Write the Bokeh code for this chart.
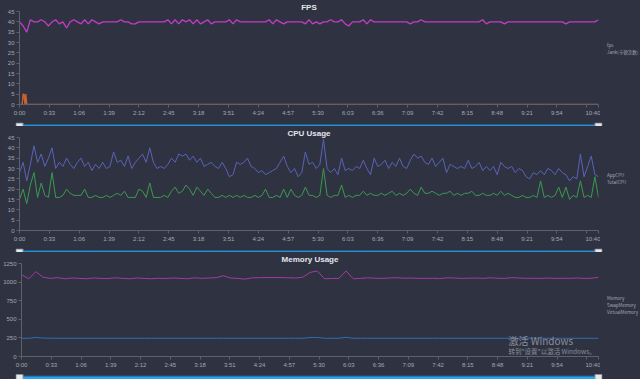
from bokeh.plotting import figure
from bokeh.layouts import column, row
from bokeh.models import Range1d, FixedTicker, Legend, LegendItem, Label
from bokeh.embed import file_html
from bokeh.resources import INLINE

# ---------------- data ----------------
STEP = 4  # seconds between samples of the sampled series
tick_secs = [0, 33, 66, 99, 132, 165, 198, 231, 264, 297, 330, 363, 396, 429,
             462, 495, 528, 561, 594, 627, 640]
tick_labels = ["0:00", "0:33", "1:06", "1:39", "2:12", "2:45", "3:18", "3:51",
               "4:24", "4:57", "5:30", "6:03", "6:36", "7:09", "7:42", "8:15",
               "8:48", "9:21", "9:54", "", "10:40"]

fps = [40, 38, 35, 41, 40, 40, 41, 40, 38, 40,
       41, 39, 40, 37, 40, 41, 40, 39, 41, 39,
       41, 40, 39, 40, 40, 40, 40, 40, 41, 40,
       40, 39, 39, 40, 40, 40, 40, 40, 40, 40,
       40, 41, 39, 41, 39, 41, 40, 41, 39, 41,
       39, 40, 41, 39, 40, 40, 40, 40, 41, 39,
       41, 40, 40, 40, 40, 40, 40, 40, 40, 41,
       39, 41, 40, 39, 40, 40, 40, 40, 40, 39,
       41, 39, 40, 39, 40, 40, 41, 40, 40, 41,
       39, 38, 40, 40, 40, 41, 39, 41, 40, 40,
       40, 40, 40, 40, 40, 40, 40, 40, 39, 40,
       40, 41, 40, 40, 40, 40, 40, 40, 40, 40,
       40, 40, 40, 40, 40, 40, 40, 40, 41, 39,
       40, 40, 40, 40, 39, 40, 40, 40, 40, 40,
       40, 40, 40, 40, 40, 40, 40, 40, 40, 40,
       40, 39, 40, 40, 40, 40, 40, 40, 40, 40,
       41]
jank_time = [0, 3, 4, 5, 6, 7, 8, 640]
jank = [0, 0, 5, 5, 0, 5, 0, 0]

total_cpu = [28, 33, 24, 32, 41, 33, 37, 31, 35, 40,
             30, 33, 31, 35, 32, 30, 33, 35, 31, 33,
             29, 32, 30, 33, 30, 31, 38, 33, 34, 31,
             36, 30, 33, 35, 37, 33, 40, 33, 30, 31,
             30, 32, 35, 33, 37, 36, 37, 34, 36, 33,
             35, 31, 32, 33, 31, 30, 33, 30, 26, 27,
             33, 32, 33, 35, 31, 30, 28, 29, 27, 28,
             29, 30, 33, 36, 31, 28, 30, 26, 28, 38,
             32, 33, 30, 32, 44, 30, 28, 30, 27, 35,
             29, 30, 29, 31, 30, 34, 30, 27, 35, 31,
             32, 34, 30, 33, 31, 35, 31, 30, 34, 37,
             35, 36, 33, 32, 35, 31, 33, 35, 28, 32,
             31, 30, 31, 30, 34, 30, 31, 33, 29, 31,
             29, 31, 27, 33, 31, 30, 31, 28, 30, 29,
             26, 25, 28, 27, 29, 27, 30, 29, 27, 30,
             28, 27, 24, 26, 25, 37, 26, 31, 36, 27,
             26]
app_cpu = [15, 20, 13, 22, 28, 16, 23, 17, 16, 28,
           16, 16, 17, 20, 18, 17, 17, 17, 20, 16,
           16, 17, 16, 16, 17, 16, 17, 18, 17, 19,
           16, 16, 16, 20, 19, 16, 23, 16, 16, 16,
           17, 16, 19, 21, 18, 19, 22, 20, 17, 21,
           19, 17, 20, 18, 16, 16, 17, 16, 17, 16,
           17, 16, 17, 16, 16, 17, 16, 17, 20, 16,
           16, 17, 16, 20, 16, 20, 17, 16, 17, 21,
           17, 17, 16, 17, 30, 17, 16, 17, 17, 22,
           16, 17, 16, 17, 17, 19, 17, 18, 17, 17,
           18, 17, 18, 19, 17, 18, 17, 18, 20, 18,
           17, 21, 18, 18, 19, 18, 17, 18, 18, 19,
           17, 18, 17, 18, 18, 19, 17, 17, 18, 17,
           17, 18, 17, 19, 17, 18, 17, 16, 16, 17,
           16, 16, 17, 16, 24, 16, 17, 16, 17, 21,
           16, 21, 15, 17, 16, 24, 16, 17, 16, 26,
           16]

MEM_STEP = 8
memory = [1100, 1045, 1140, 1065, 1050, 1060, 1045, 1055, 1050, 1045,
          1055, 1050, 1048, 1058, 1050, 1045, 1055, 1050, 1045, 1052,
          1048, 1055, 1050, 1045, 1058, 1050, 1055, 1060, 1085, 1055,
          1050, 1040, 1058, 1060, 1062, 1060, 1062, 1058, 1055, 1065,
          1130, 1150, 1045, 1048, 1050, 1150, 1045, 1050, 1058, 1052,
          1050, 1055, 1060, 1052, 1055, 1050, 1050, 1052, 1048, 1058,
          1055, 1050, 1052, 1055, 1050, 1058, 1052, 1050, 1060, 1055,
          1050, 1052, 1050, 1055, 1050, 1052, 1050, 1055, 1050, 1052,
          1065]
virtual_mem = [245, 245, 256, 248, 245, 245, 245, 245, 245, 245,
               245, 245, 245, 245, 245, 245, 245, 245, 245, 245,
               245, 245, 245, 245, 245, 245, 245, 245, 245, 245,
               245, 245, 245, 245, 245, 245, 245, 245, 245, 245,
               255, 256, 245, 245, 245, 258, 245, 245, 245, 245,
               245, 245, 245, 245, 245, 245, 245, 245, 245, 245,
               245, 245, 245, 245, 245, 245, 245, 245, 245, 245,
               245, 245, 245, 245, 245, 245, 245, 245, 245, 245,
               245]
swap_time = [0, 640]
swap_mem = [0, 0]

fps_ticks = [0, 5, 10, 15, 20, 25, 30, 35, 40, 45]
cpu_ticks = [0, 5, 10, 15, 20, 25, 30, 35, 40, 45]
mem_ticks = [0, 250, 500, 750, 1000, 1250]

t = [i * STEP for i in range(len(fps))]
tc = [i * STEP for i in range(len(total_cpu))]
tm = [i * MEM_STEP for i in range(len(memory))]

# ---------------- style ----------------
BG = "#2f3341"
AXIS = "#5d616d"
LABEL = "#a3a7b1"
W = 640
LEG_W = 40
FIG_H = 118
SL_H = 8
ML, MR = 19, 2
MAIN_W = W - LEG_W
FRAME_W = MAIN_W - ML - MR
FONT = "Liberation Sans"


def make_fig(title, ymax, yticks):
    p = figure(width=MAIN_W, height=FIG_H, x_range=Range1d(0, 640), y_range=Range1d(0, ymax),
               output_backend="svg", toolbar_location=None, title=title,
               background_fill_color=BG, border_fill_color=BG,
               min_border_left=ML, min_border_right=MR, min_border_top=0, min_border_bottom=0)
    p.outline_line_color = None
    p.grid.grid_line_color = None
    p.title.text_font_size = "8px"
    p.title.text_color = "#e3e6ee"
    p.title.text_font = FONT
    p.title.standoff = 0
    p.title.offset = 0
    p.title.align = "center"
    xa = p.xaxis[0]
    xa.ticker = FixedTicker(ticks=tick_secs, minor_ticks=[])
    xa.major_label_overrides = {s: l for s, l in zip(tick_secs, tick_labels)}
    ya = p.yaxis[0]
    ya.ticker = FixedTicker(ticks=yticks, minor_ticks=[])
    for ax in (xa, ya):
        ax.axis_line_color = AXIS
        ax.major_tick_line_color = AXIS
        ax.major_tick_out = 3
        ax.major_tick_in = 0
        ax.major_label_text_font_size = "6px"
        ax.major_label_text_color = LABEL
        ax.major_label_text_font = FONT
        ax.major_label_standoff = 2
    return p


def make_legend(entries, y_pos):
    q = figure(width=LEG_W, height=FIG_H, x_range=Range1d(0, 1), y_range=Range1d(0, 1),
               output_backend="svg", toolbar_location=None,
               background_fill_color=BG, border_fill_color=BG,
               min_border_left=0, min_border_right=0, min_border_top=0, min_border_bottom=0,
               x_axis_location=None, y_axis_location=None)
    q.outline_line_color = None
    q.grid.grid_line_color = None
    items = []
    for name, color in entries:
        r = q.quad(left=[], right=[], top=[], bottom=[], fill_color=color, line_color=None)
        items.append(LegendItem(label=name, renderers=[r]))
    leg = Legend(items=items, location=(1, y_pos), label_text_font_size="4.5px",
                 label_text_color=LABEL, label_text_font="Noto Sans CJK SC",
                 glyph_width=4, glyph_height=4, label_height=5, label_standoff=2,
                 spacing=1, padding=0, margin=0, background_fill_alpha=0,
                 border_line_color=None)
    q.add_layout(leg)
    return q


def make_slider(x0, x1, h=SL_H):
    pad_px = 4
    pad = pad_px * (x1 - x0) / FRAME_W
    s = figure(width=W, height=h, x_range=Range1d(x0 - pad, x1 + pad), y_range=Range1d(0, 1),
               output_backend="svg", toolbar_location=None,
               background_fill_color=BG, border_fill_color=BG,
               min_border_left=ML - pad_px, min_border_right=MR + LEG_W - pad_px,
               min_border_top=0, min_border_bottom=0,
               x_axis_location=None, y_axis_location=None)
    s.outline_line_color = None
    s.grid.grid_line_color = None
    s.quad(left=[x0], right=[x1], bottom=[0.3], top=[0.7], fill_color="#2aa3ec",
           line_color="#1c78b8", line_width=1)
    s.scatter(x=[x0, x1], y=[0.5, 0.5], marker="square", size=7,
              fill_color="#e6e8ec", line_color="#8a93a3", line_width=1)
    return s


# FPS
p1 = make_fig("FPS", 45, fps_ticks)
p1.line(t, fps, color="#c43bc6", line_width=1.3)
p1.line(jank_time, jank, color="#c8612e", line_width=1.4)
l1 = make_legend([("fps", "#c43bc6"), ("Jank(卡顿次数)", "#e06a2a")], 49)

# CPU
p2 = make_fig("CPU Usage", 45, cpu_ticks)
p2.line(tc, total_cpu, color="#5a63b8", line_width=1)
p2.line(tc, app_cpu, color="#3c9a4e", line_width=1)
l2 = make_legend([("AppCPU", "#3fae4f"), ("TotalCPU", "#5b6fd0")], 45)

# Memory
p3 = make_fig("Memory Usage", 1250, mem_ticks)
p3.line(tm, memory, color="#a33aa5", line_width=1)
p3.line(swap_time, swap_mem, color="#6a9a1f", line_width=1.2)
p3.line(tm, virtual_mem, color="#2f6cb3", line_width=1)
l3 = make_legend([("Memory", "#b43fc0"), ("SwapMemory", "#6aa81f"), ("VirtualMemory", "#3a78d0")], 41)
p3.add_layout(Label(x=FRAME_W - 92, y=9, x_units="screen", y_units="screen", text="激活 Windows",
                    text_font_size="10px", text_color="#8b8e98", text_font="Noto Sans CJK SC"))
p3.add_layout(Label(x=FRAME_W - 92, y=1, x_units="screen", y_units="screen",
                    text="转到\"设置\"以激活 Windows。",
                    text_font_size="6.5px", text_color="#8b8e98", text_font="Noto Sans CJK SC"))

layout = column(row(p1, l1, spacing=0), make_slider(t[0], t[-1]),
                row(p2, l2, spacing=0), make_slider(tc[0], tc[-1]),
                row(p3, l3, spacing=0), make_slider(tm[0], tm[-1], SL_H + 1),
                spacing=0, styles={"background-color": BG})

open("out.html", "w").write(file_html(layout, INLINE))
